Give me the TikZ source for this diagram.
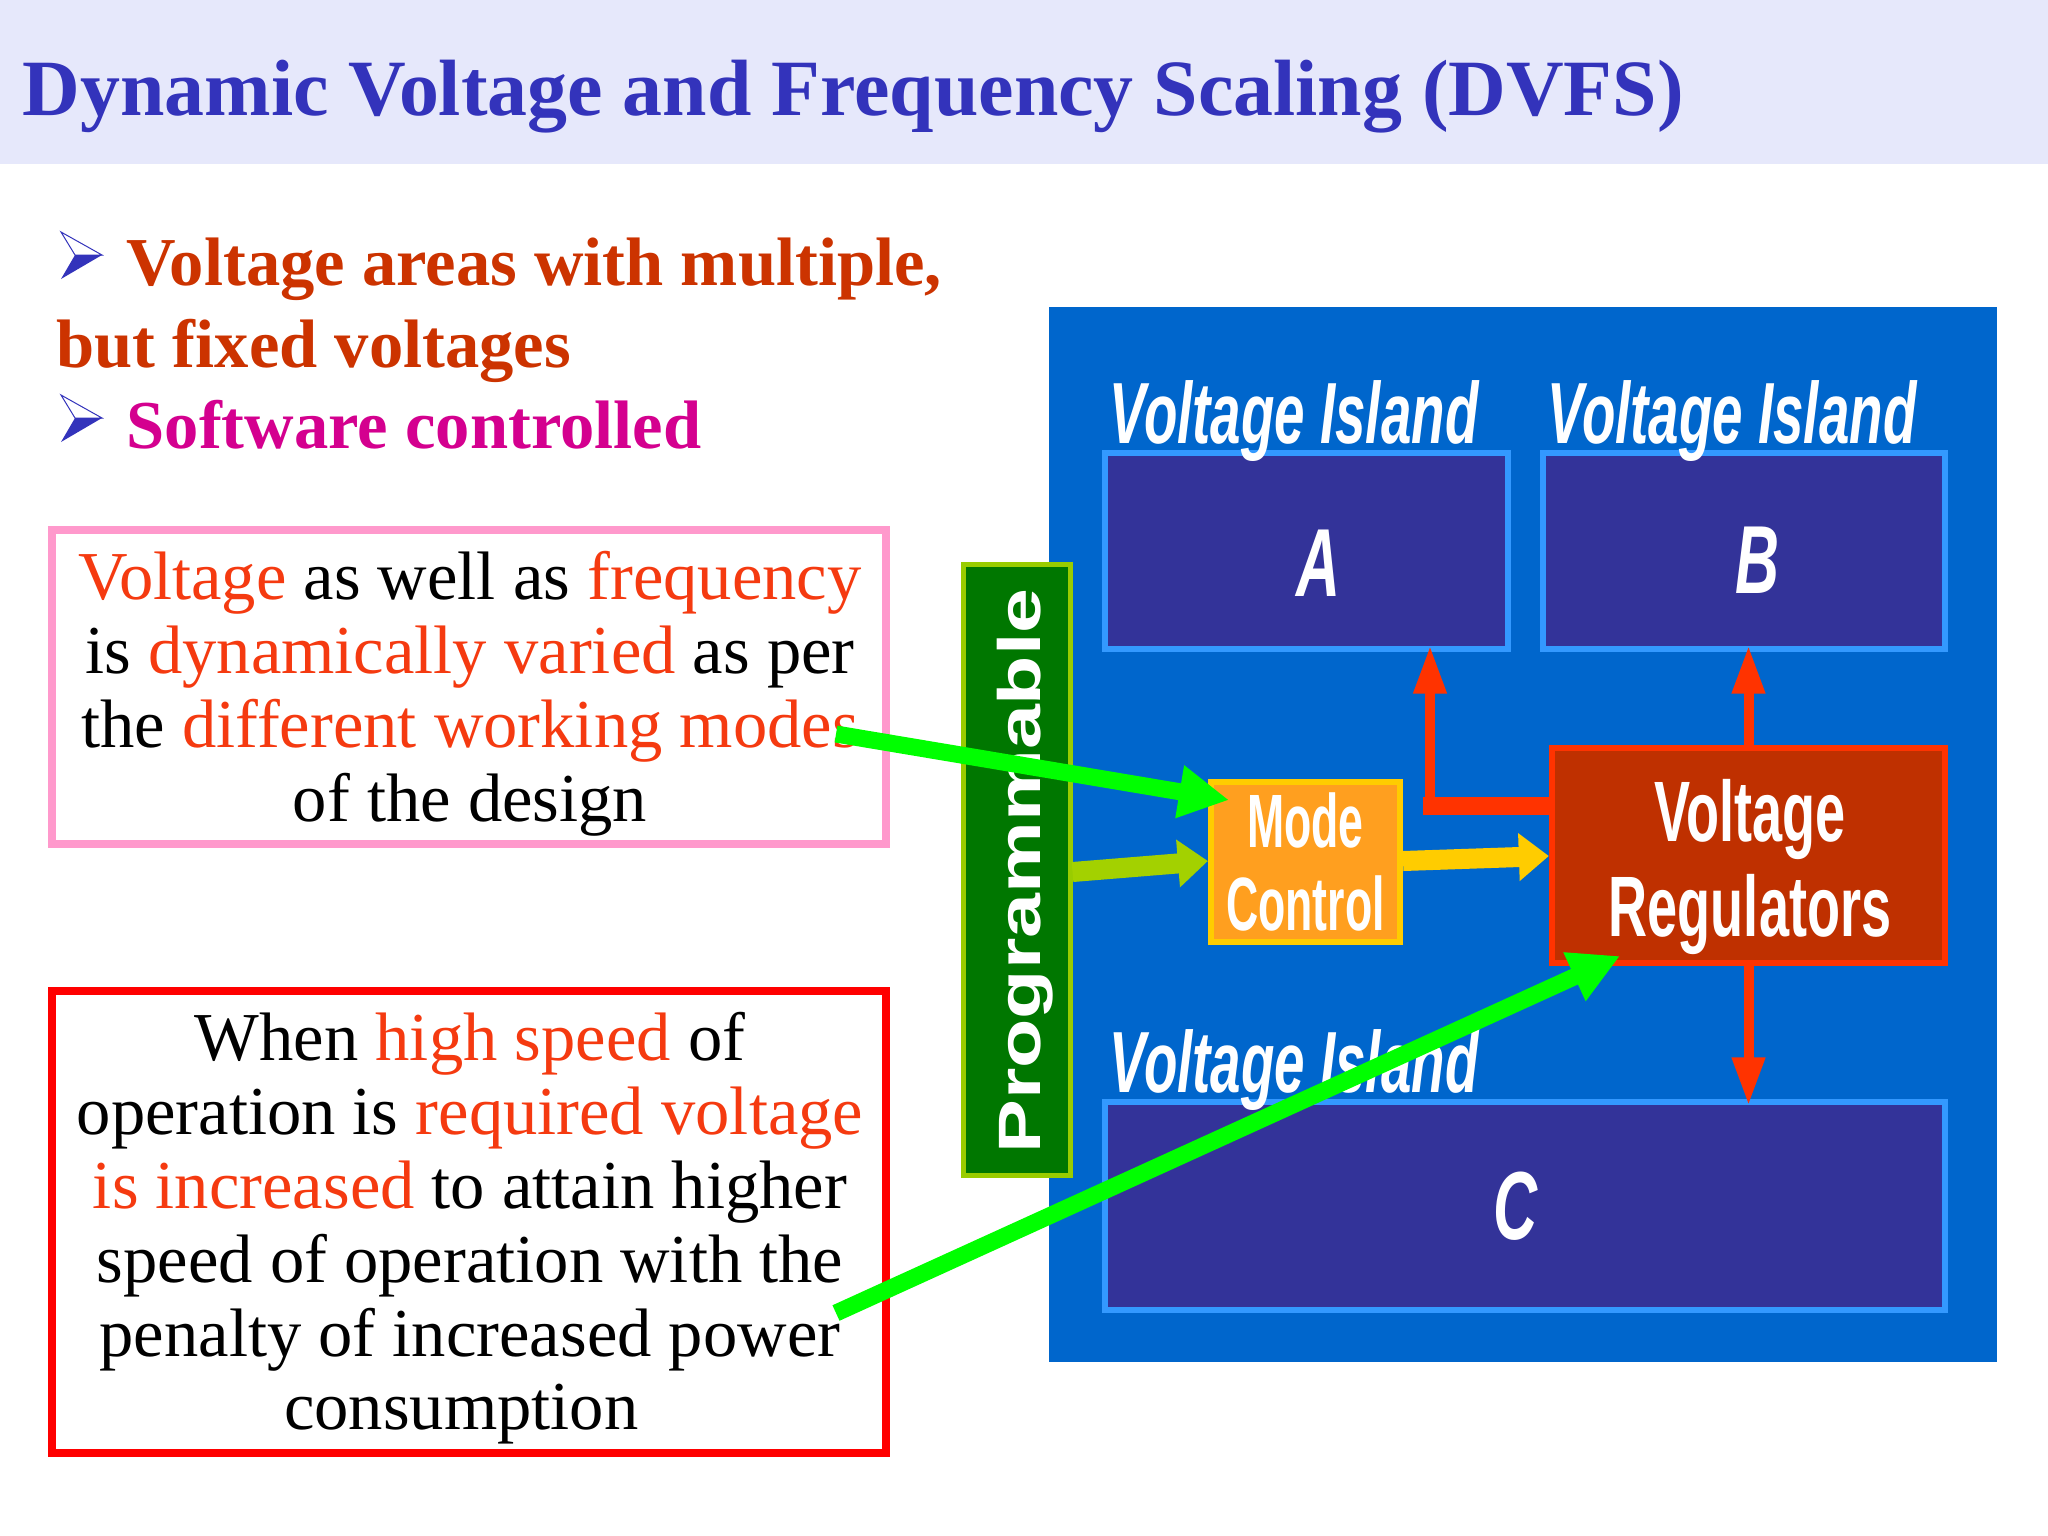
\documentclass[tikz,border=0pt]{standalone}
\usepackage{fontspec}
\usetikzlibrary{arrows.meta}
\setmainfont{Liberation Serif}
\newfontfamily\narrowfont[FakeStretch=0.63]{Liberation Sans}
\newfontfamily\narrowerfont[FakeStretch=0.59]{Liberation Sans}
\newfontfamily\widefont[FakeStretch=1.35]{Liberation Sans}
\definecolor{titleband}{HTML}{E6E8FB}
\definecolor{titleblue}{HTML}{3333BB}
\definecolor{panelblue}{HTML}{0066CC}
\definecolor{islandblue}{HTML}{333399}
\definecolor{islandedge}{HTML}{3399FF}
\definecolor{progreen}{HTML}{007700}
\definecolor{proedge}{HTML}{99CC00}
\definecolor{modefill}{HTML}{FF9F1F}
\definecolor{modeedge}{HTML}{FFCC00}
\definecolor{regfill}{HTML}{BF3000}
\definecolor{regedge}{HTML}{FF3300}
\definecolor{headred}{HTML}{CC3300}
\definecolor{headpink}{HTML}{D4008F}
\definecolor{wordred}{HTML}{F53A10}
\definecolor{pinkedge}{HTML}{FF99CC}
\begin{document}
\begin{tikzpicture}[x=0.01cm,y=-0.01cm]
  \tikzset{
    BoxStyle/.style={draw,shape=rectangle,inner sep=0pt},
    IslandStyle/.style={BoxStyle,fill=islandblue,draw=islandedge,line width=.06cm},
    IslandLabel/.style={text=white,font=\narrowfont\bfseries\itshape\fontsize{24.7}{26}\selectfont},
    IslandLetter/.style={text=white,font=\narrowfont\bfseries\itshape\fontsize{27.5}{30}\selectfont},
    NoteStyle/.style={BoxStyle,fill=white,line width=.08cm},
    NoteText/.style={align=center,inner sep=0pt,font=\fontsize{19.5}{21}\selectfont},
    HeadStyle/.style={anchor=base west,font=\bfseries\fontsize{19.5}{24}\selectfont},
    RedArrow/.style={draw=regedge,line width=.1cm,shorten >=-.06cm,-{Triangle[length=.48cm,width=.31cm]},regedge},
    FatArrow/.style={line width=.2cm,-{Triangle[length=.3cm,width=.46cm]}},
    GreenArrow/.style={draw=green,line width=.17cm,-{Triangle[length=.5cm,width=.5cm]},green}
  }
  \useasboundingbox (0,0) rectangle (2048,1536);
  \fill[white] (0,0) rectangle (2048,1536);
  \fill[titleband] (0,0) rectangle (2048,164);
  \node[anchor=base west,inner sep=0pt,text=titleblue,font=\bfseries\fontsize{22.7}{28}\selectfont]
    (title) at (22,115) {Dynamic Voltage and Frequency Scaling (DVFS)};

  % bullets
  \foreach \y in {255,418}{
    \fill[white,draw=titleblue,line width=.01cm] (61,\y-23) -- (102,\y) -- (75,\y) -- cycle;
    \fill[titleblue] (61,\y+24) -- (102,\y) -- (75,\y) -- cycle;
  }
  \node[HeadStyle,text=headred,inner sep=0pt] (headone) at (126,285) {Voltage areas with multiple,};
  \node[HeadStyle,text=headred,inner sep=0pt] (headtwo) at (56,367) {but fixed voltages};
  \node[HeadStyle,text=headpink,inner sep=0pt] (headthree) at (126,448) {Software controlled};

  % notes on the left
  \node[NoteStyle,draw=pinkedge,minimum width=8.34cm,minimum height=3.14cm] (modenote) at (469,687) {};
  \node[NoteText] (modetext) at (470,693.5)
    {\textcolor{wordred}{Voltage} as well as \textcolor{wordred}{frequency}\\
     is \textcolor{wordred}{dynamically varied} as per\\
     the \textcolor{wordred}{different working modes}\\
     of the design};
  \node[NoteStyle,draw=red,minimum width=8.34cm,minimum height=4.62cm] (speednote) at (469,1222) {};
  \node[NoteText] (speedtext) at (470,1228.5)
    {When \textcolor{wordred}{high speed} of\\
     operation is \textcolor{wordred}{required voltage}\\
     \textcolor{wordred}{is increased} to attain higher\\
     speed of operation with the\\
     penalty of increased power\\
     consumption\hspace*{5pt}};

  % the chip
  \fill[panelblue] (1049,307) rectangle (1997,1362);
  \node[IslandStyle,minimum width=4.02cm,minimum height=1.95cm] (islanda) at (1306.5,551) {};
  \node[IslandStyle,minimum width=4.02cm,minimum height=1.95cm] (islandb) at (1744,551) {};
  \node[IslandStyle,minimum width=8.4cm,minimum height=2.07cm] (islandc) at (1525,1206) {};
  \node[IslandLabel] (labela) at (1294,421) {Voltage Island};
  \node[IslandLabel] (labelb) at (1732,421) {Voltage Island};
  \node[IslandLabel] (labelc) at (1294,1070) {Voltage Island};
  \node[IslandLetter] (lettera) at (1318,563) {A};
  \node[IslandLetter] (letterb) at (1757,560) {B};
  \node[IslandLetter] (letterc) at (1515,1206) {C};
  \node[BoxStyle,fill=progreen,draw=proedge,line width=.05cm,minimum width=1.06cm,minimum height=6.1cm]
    (prog) at (1017,870) {};
  \node[rotate=90,text=white,font=\widefont\bfseries\fontsize{17}{20}\selectfont] (proglabel) at (1025,871) {Programmable};
  \node[BoxStyle,fill=modefill,draw=modeedge,line width=.06cm,minimum width=1.89cm,minimum height=1.6cm,
    align=center,text=white,font=\narrowerfont\bfseries\fontsize{21.5}{23.4}\selectfont] (mode) at (1305.5,862) {Mode\\Control};
  \node[BoxStyle,fill=regfill,draw=regedge,line width=.06cm,minimum width=3.93cm,minimum height=2.14cm] (reg) at (1748.5,855.5) {};
  \node[align=center,text=white,font=\narrowfont\bfseries\fontsize{24.4}{26.8}\selectfont] (reglabel) at (1750,867) {Voltage\\Regulators};

  % connectors
  \coordinate (bend) at (1430,806);
  \draw[regedge,line width=.18cm] (reg.west |- bend) -- (1423,806);
  \draw[RedArrow] (bend) -- (bend |- islanda.south);
  \draw[RedArrow] (reg.north) -- (reg.north |- islandb.south);
  \draw[RedArrow] (reg.south) -- (reg.south |- islandc.north);
  \draw[FatArrow,draw=proedge!90!yellow,proedge!90!yellow] (prog.east |- 0,872) -- (mode.west |- 0,861);
  \draw[FatArrow,draw=modeedge,modeedge] (mode.east |- 0,861) -- (reg.west |- 0,856);

  % the two pointers on top
  \coordinate (modestart) at (836,734);
  \coordinate (speedstart) at (836,1313);
  \coordinate (modetip) at (1229,800);
  \coordinate (regtip) at (1620,956);
  \draw[GreenArrow] (modestart) -- (modetip);
  \draw[GreenArrow] (speedstart) -- (regtip);
\end{tikzpicture}
\end{document}
